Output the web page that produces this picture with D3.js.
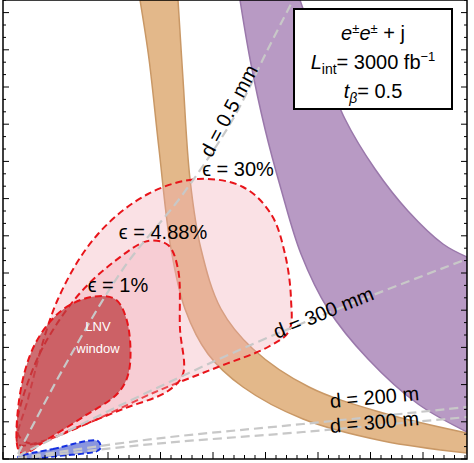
<!DOCTYPE html><html><head><meta charset="utf-8"><script src="https://d3js.org/d3.v7.min.js"></script>
<style>body{margin:0;background:#fff}text{font-family:Arial,"Liberation Sans",sans-serif}</style></head><body><svg id="c" width="474" height="463"></svg>
<script>
// data in plot units (x 0..464, y 0..459)
const orangeLeft=[[137,459],[146,400],[156,310],[168,210],[182,150],[205,105],[240,72],[300,40],[380,18],[464,6]];
const orangeRight=[[175,459],[180,380],[187,280],[198,210],[218,150],[250,110],[306,72],[380,46],[464,26]];
const purpleLeft=[[237,459],[247,400],[262,330],[278,270],[298,205],[325,150],[365,100],[415,55],[464,27]];
const purpleRight=[[297,459],[318,400],[342,340],[372,290],[405,248],[440,215],[464,202]];
const eps30=[[15,15],[25,60],[55,160],[95,225],[145,265],[195,280],[240,272],[268,245],[282,205],[288,160],[286,128],[265,112],[215,92],[150,66],[90,38],[40,18]];
const eps488=[[15,25],[32,95],[72,160],[112,198],[145,218],[165,214],[175,190],[177,130],[180,85],[165,68],[120,50],[70,30],[30,15]];
const eps1=[[15,10],[17,65],[32,115],[58,148],[88,162],[112,160],[124,138],[126,88],[115,66],[80,42],[45,20],[20,5]];
const blueReg=[[15,2],[50,10],[95,18],[97,10],[55,3],[20,0]];
const d05=[[15,5],[60,90],[120,190],[180,265],[230,340],[265,410],[290,459]];
const d300mm=[[15,3],[120,55],[250,115],[360,160],[464,200]];
const d200m=[[15,1],[150,20],[300,35],[464,52]];
const d300m=[[15,0],[150,15],[300,27],[464,42]];
const dLabels=[{t:"d = 0.5 mm",x:232,y:345,r:-62},{t:"d = 300 mm",x:323,y:140,r:-22},{t:"d = 200 m",x:372,y:55,r:-5},{t:"d = 300 m",x:372,y:30,r:-5}];
const epsLabels=[{t:"ϵ = 30%",x:235,y:283},{t:"ϵ = 4.88%",x:160,y:220},{t:"ϵ = 1%",x:115,y:167}];

const svg=d3.select("#c");
const x=d3.scaleLinear().domain([0,464]).range([3,467]);
const y=d3.scaleLinear().domain([0,459]).range([459,0]);
const line=d3.line().x(d=>x(d[0])).y(d=>y(d[1])).curve(d3.curveCatmullRom);
const closed=d3.line().x(d=>x(d[0])).y(d=>y(d[1])).curve(d3.curveCatmullRomClosed);
const g=svg.append("g");
g.append("clipPath").attr("id","cl").append("rect").attr("x",3).attr("y",0).attr("width",464).attr("height",459);
const p=g.append("g").attr("clip-path","url(#cl)");
function band(a,b,fill,stroke){p.append("path").attr("d",line(a)+"L"+line(b.slice().reverse()).slice(1)+"Z").attr("fill",fill).attr("stroke",stroke).attr("stroke-width",1.5);}
band(orangeLeft,orangeRight,"#e3b88a","#c99866");
band(purpleLeft,purpleRight,"#b89ac4","#9a78ab");
p.append("path").attr("d",closed(eps30)).attr("fill","rgba(240,170,180,0.35)").attr("stroke","#e8141a").attr("stroke-width",2).attr("stroke-dasharray","7,4");
p.append("path").attr("d",closed(eps488)).attr("fill","rgba(240,170,180,0.35)").attr("stroke","#e8141a").attr("stroke-width",2).attr("stroke-dasharray","7,4");
p.append("path").attr("d",closed(eps1)).attr("fill","rgba(190,60,65,0.75)").attr("stroke","#e8141a").attr("stroke-width",2).attr("stroke-dasharray","7,4");
p.append("path").attr("d",closed(blueReg)).attr("fill","rgba(60,80,200,0.6)").attr("stroke","#1530e0").attr("stroke-width",2).attr("stroke-dasharray","6,3");
[d05,d300mm,d200m,d300m].forEach(d=>p.append("path").attr("d",line(d)).attr("fill","none").attr("stroke","#c8c8c8").attr("stroke-width",2.2).attr("stroke-dasharray","9,5"));
g.append("rect").attr("x",3).attr("y",0).attr("width",464).attr("height",459).attr("fill","none").attr("stroke","#000").attr("stroke-width",1.5);
for(let i=0;i<=37;i++){const yy=y(i*12.4);g.append("line").attr("x1",3).attr("x2",i%3==0?9:6).attr("y1",yy).attr("y2",yy).attr("stroke","#000");
 g.append("line").attr("x1",467).attr("x2",i%3==0?461:464).attr("y1",yy).attr("y2",yy).attr("stroke","#000");}
for(let i=0;i<=45;i++){const xx=x(i*10.5);g.append("line").attr("y1",459).attr("y2",i%5==0?452:455).attr("x1",xx).attr("x2",xx).attr("stroke","#000");}
dLabels.forEach(d=>g.append("text").attr("transform",`translate(${x(d.x)},${y(d.y)}) rotate(${d.r})`).attr("text-anchor","middle").attr("font-size",20).text(d.t));
epsLabels.forEach(d=>g.append("text").attr("x",x(d.x)).attr("y",y(d.y)).attr("text-anchor","middle").attr("font-size",20).text(d.t));
g.append("text").attr("x",x(95)).attr("y",y(128)).attr("text-anchor","middle").attr("fill","#fff").attr("font-size",13).text("LNV");
g.append("text").attr("x",x(95)).attr("y",y(106)).attr("text-anchor","middle").attr("fill","#fff").attr("font-size",13).text("window");
g.append("rect").attr("x",294).attr("y",9).attr("width",158).attr("height",100).attr("fill","#fff").attr("stroke","#000").attr("stroke-width",2);
const t1=g.append("text").attr("x",373).attr("y",40).attr("text-anchor","middle").attr("font-size",20);
t1.append("tspan").attr("font-style","italic").text("e");t1.append("tspan").attr("dy",-7).attr("font-size",13).text("±");
t1.append("tspan").attr("dy",7).attr("font-style","italic").text("e");t1.append("tspan").attr("dy",-7).attr("font-size",13).text("±");
t1.append("tspan").attr("dy",7).text(" + j");
const t2=g.append("text").attr("x",373).attr("y",69).attr("text-anchor","middle").attr("font-size",20);
t2.append("tspan").attr("font-style","italic").text("L");t2.append("tspan").attr("dy",5).attr("font-size",14).text("int");
t2.append("tspan").attr("dy",-5).text("= 3000 fb");t2.append("tspan").attr("dy",-8).attr("font-size",13).text("−1");
const t3=g.append("text").attr("x",373).attr("y",98).attr("text-anchor","middle").attr("font-size",20);
t3.append("tspan").attr("font-style","italic").text("t");t3.append("tspan").attr("dy",5).attr("font-size",14).attr("font-style","italic").text("β");
t3.append("tspan").attr("dy",-5).text("= 0.5");
</script></body></html>
